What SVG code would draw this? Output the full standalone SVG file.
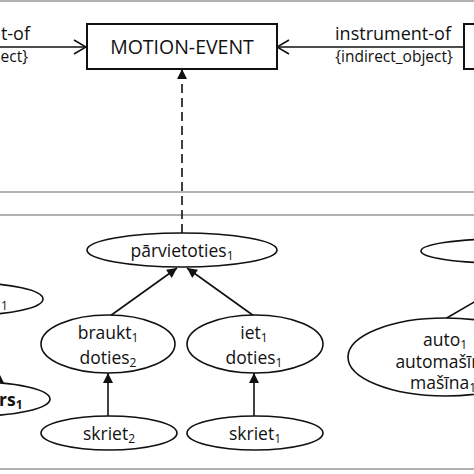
<svg xmlns="http://www.w3.org/2000/svg" width="474" height="474" viewBox="0 0 474 474">
<style>
.t{font-family:"Open Sans","Liberation Sans",sans-serif;fill:#111;text-anchor:middle}
.n{font-size:17.5px}
.s{font-size:12px}
.box{fill:#fff;stroke:#111;stroke-width:2}
.el{fill:#fff;stroke:#111;stroke-width:1.6}
.ln{stroke:#111;stroke-width:1.6;fill:none}
.gr{stroke:#999;stroke-width:1.5}
</style>
<defs>
<marker id="tri" viewBox="0 0 10 10" refX="10" refY="5" markerWidth="11" markerHeight="10" markerUnits="userSpaceOnUse" orient="auto"><path d="M0,0L10,5L0,10z" fill="#111"/></marker>
<marker id="open" viewBox="0 0 14 16" refX="13" refY="8" markerWidth="14" markerHeight="16" markerUnits="userSpaceOnUse" orient="auto"><path d="M1,1L13,8L1,15" fill="none" stroke="#111" stroke-width="1.6"/></marker>
</defs>
<rect width="474" height="474" fill="#fff"/>
<line class="gr" x1="0" y1="1" x2="474" y2="1"/>
<line class="gr" x1="0" y1="192" x2="474" y2="192"/>
<line class="gr" x1="0" y1="215" x2="474" y2="215"/>
<line class="gr" x1="0" y1="469" x2="474" y2="469"/>

<g id="connectors">
<line class="ln" x1="0" y1="47" x2="86" y2="47" marker-end="url(#open)"/>
<line class="ln" x1="464" y1="47" x2="277" y2="47" marker-end="url(#open)"/>
<line class="ln" x1="182" y1="233" x2="182" y2="69" stroke-dasharray="9,5" marker-end="url(#tri)"/>
<line class="ln" x1="110" y1="316" x2="177" y2="268" marker-end="url(#tri)"/>
<line class="ln" x1="254" y1="316" x2="187" y2="268" marker-end="url(#tri)"/>
<line class="ln" x1="108" y1="417" x2="108" y2="373" marker-end="url(#tri)"/>
<line class="ln" x1="254" y1="417" x2="254" y2="373" marker-end="url(#tri)"/>
<line class="ln" x1="445" y1="319" x2="495" y2="290"/>
<path d="M-1,373L4,383L-6,383z" fill="#111"/>
<text class="t" style="font-size:18px;text-anchor:end" x="30" y="40">t-of</text>
<text class="t" style="font-size:15.5px;text-anchor:end" x="28" y="62">ect}</text>
<text class="t" style="font-size:18px" x="393" y="40">instrument-of</text>
<text class="t" style="font-size:15.5px" x="394" y="62">{indirect_object}</text>
</g>

<g id="motion-event">
<rect class="box" x="87" y="24" width="190" height="45"/>
<text class="t" style="font-size:19.5px" x="182" y="54">MOTION-EVENT</text>
</g>
<g id="right-box">
<rect class="box" x="464" y="24" width="40" height="45"/>
</g>

<g id="parvietoties">
<ellipse class="el" cx="182" cy="250" rx="95" ry="17"/>
<text class="t n" x="182" y="257">pārvietoties<tspan class="s" dy="3">1</tspan></text>
</g>
<g id="braukt">
<ellipse class="el" cx="108" cy="344" rx="67" ry="29"/>
<text class="t n" x="108" y="339">braukt<tspan class="s" dy="3">1</tspan></text>
<text class="t n" x="108" y="364">doties<tspan class="s" dy="3">2</tspan></text>
</g>
<g id="iet">
<ellipse class="el" cx="255" cy="344" rx="68" ry="29"/>
<text class="t n" x="254" y="339">iet<tspan class="s" dy="3">1</tspan></text>
<text class="t n" x="254" y="364">doties<tspan class="s" dy="3">1</tspan></text>
</g>
<g id="skriet2">
<ellipse class="el" cx="109" cy="433" rx="68" ry="17"/>
<text class="t n" x="109" y="440">skriet<tspan class="s" dy="3">2</tspan></text>
</g>
<g id="skriet1">
<ellipse class="el" cx="255" cy="433" rx="68" ry="17"/>
<text class="t n" x="255" y="440">skriet<tspan class="s" dy="3">1</tspan></text>
</g>
<g id="auto">
<ellipse class="el" cx="445" cy="357" rx="97" ry="39"/>
<text class="t n" x="445" y="346">auto<tspan class="s" dy="3">1</tspan></text>
<text class="t n" x="447" y="368">automašīna<tspan class="s" dy="3">1</tspan></text>
<text class="t n" x="443" y="389">mašīna<tspan class="s" dy="3">1</tspan></text>
</g>
<g id="right-top">
<ellipse class="el" cx="500" cy="251" rx="79" ry="12"/>
</g>
<g id="left-top">
<ellipse class="el" cx="-30" cy="299" rx="73" ry="16"/>
<text class="t s" style="text-anchor:start" x="1" y="310">1</text>
</g>
<g id="left-bottom">
<ellipse class="el" cx="-25" cy="399" rx="75" ry="17"/>
<text class="t n" style="text-anchor:start;font-weight:bold" x="-1" y="406">rs<tspan class="s" dy="3">1</tspan></text>
</g>
</svg>
